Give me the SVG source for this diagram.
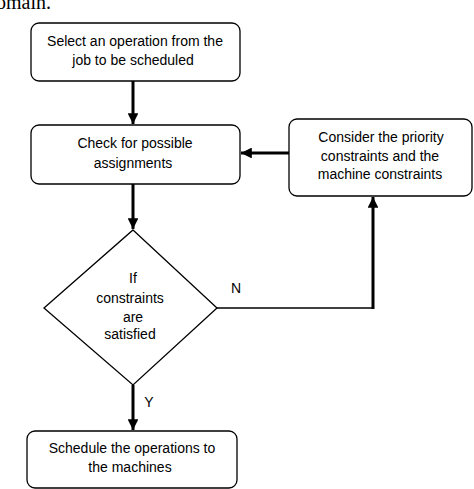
<svg xmlns="http://www.w3.org/2000/svg" width="474" height="489" viewBox="0 0 474 489">
<style>
.box{fill:#fff;stroke:#000;stroke-width:1.3}
.t{font-family:"Liberation Sans",Arial,sans-serif;font-size:14px;fill:#000;text-anchor:middle}
.c{fill:none;stroke:#000;stroke-width:3}
.thin{fill:none;stroke:#000;stroke-width:1.5}
</style>
<defs>
<marker id="ah" viewBox="0 0 10 10" refX="10" refY="5" markerWidth="3.6" markerHeight="3.6" orient="auto" markerUnits="strokeWidth">
<path d="M0,0 L10,5 L0,10 z" fill="#000"/>
</marker>
</defs>
<rect width="474" height="489" fill="#fff"/>
<text x="-4" y="9" font-family="'Liberation Serif',serif" font-size="20" fill="#000">omain.</text>
<g id="connectors">
<path class="c" d="M133,81 V124" marker-end="url(#ah)"/>
<path class="c" d="M289,153 H241" marker-end="url(#ah)"/>
<path class="c" d="M133,184 V229" marker-end="url(#ah)"/>
<path class="thin" d="M217,308 H373"/>
<path class="c" d="M373,309 V197" marker-end="url(#ah)"/>
<path class="c" d="M133,385 V430" marker-end="url(#ah)"/>
<text class="t" x="236" y="293">N</text>
<text class="t" x="149" y="407">Y</text>
</g>
<g id="select">
<rect class="box" x="31" y="23" width="209" height="58" rx="8"/>
<text class="t" x="135" y="46">Select an operation from the</text>
<text class="t" x="133" y="65">job to be scheduled</text>
</g>
<g id="check">
<rect class="box" x="31" y="125" width="209" height="59" rx="8"/>
<text class="t" x="135" y="148">Check for possible</text>
<text class="t" x="133" y="168">assignments</text>
</g>
<g id="consider">
<rect class="box" x="289" y="119" width="183" height="77" rx="8"/>
<text class="t" x="381" y="142">Consider the priority</text>
<text class="t" x="380" y="161">constraints and the</text>
<text class="t" x="380" y="179">machine constraints</text>
</g>
<g id="decision">
<polygon class="box" points="133,230 217,308 133,385 44,308"/>
<text class="t" x="133" y="283">If</text>
<text class="t" x="130" y="303">constraints</text>
<text class="t" x="133" y="322">are</text>
<text class="t" x="130" y="339">satisfied</text>
</g>
<g id="schedule">
<rect class="box" x="27" y="431" width="210" height="57" rx="8"/>
<text class="t" x="132" y="453">Schedule the operations to</text>
<text class="t" x="130" y="472">the machines</text>
</g>
</svg>
